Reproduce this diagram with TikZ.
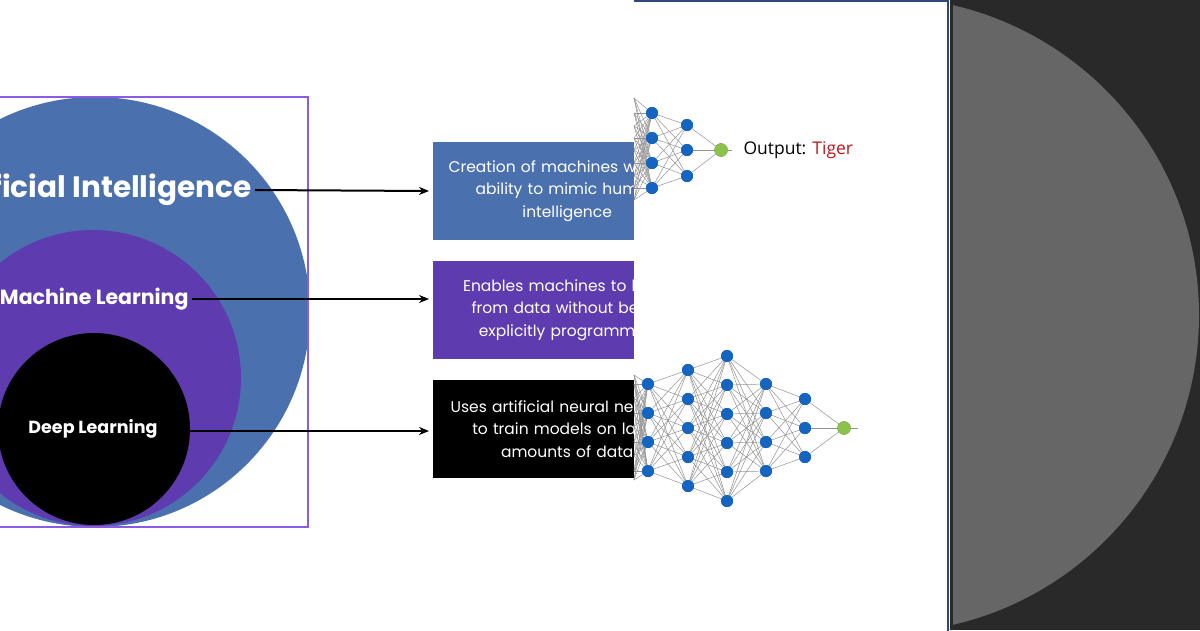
\documentclass[tikz,border=0pt]{standalone}
\usepackage{fontspec}
\setmainfont{Poppins}
\newfontfamily\nnfont{Open Sans}
\usetikzlibrary{arrows.meta}
\definecolor{aiblue}{HTML}{4A70AE}
\definecolor{mlpurple}{HTML}{5E3CB0}
\definecolor{frame}{HTML}{8A5CE0}
\definecolor{panelb}{HTML}{2E4780}
\definecolor{nblue}{HTML}{1565C0}
\definecolor{ngreen}{HTML}{8BC34A}
\begin{document}
\begin{tikzpicture}[x=1pt,y=-1pt,
  lbl/.style={text=white,font=\bfseries},
  box/.style={minimum width=268pt,minimum height=98pt,text width=268pt,align=center,text=white,font=\fontsize{15.5}{22.5}\selectfont,inner sep=0pt},
  arr/.style={-{Stealth[length=10pt,width=8pt]},line width=2pt},
  neu/.style={circle,fill=nblue,minimum size=12pt,inner sep=0pt},
  outn/.style={circle,fill=ngreen,draw=ngreen!70!black,line width=0.4pt,minimum size=13pt,inner sep=0pt},
  syn/.style={draw=gray!85,line width=0.5pt}]
\useasboundingbox (0,0) rectangle (1200,630);
\clip (0,0) rectangle (1200,630);
\fill[white] (0,0) rectangle (1200,630);
% nested circles
\begin{scope}
\clip (0,97) rectangle (308,527);
\fill[aiblue] (95,312) circle (215);
\fill[mlpurple] (93,378) circle (148);
\fill[black] (94,429) circle (96);
\end{scope}
\draw[frame,line width=1.2pt] (-2,97) rectangle (308,527);
\node[lbl,anchor=east,font=\fontsize{29.5}{32}\selectfont\bfseries,text=white] (ai) at (255,190) {Artificial Intelligence};
\node[lbl,anchor=east,font=\fontsize{20.5}{24}\selectfont\bfseries,text=white] (ml) at (192,299) {Machine Learning};
\node[lbl,font=\fontsize{17.5}{20}\selectfont\bfseries,text=white] (dl) at (93,429) {Deep Learning};
% boxes
\node[box,fill=aiblue,anchor=west] (b1) at (433,191) {Creation of machines with the\\ ability to mimic human\\ intelligence};
\node[box,fill=mlpurple,anchor=west] (b2) at (433,310) {Enables machines to learn\\ from data without being\\ explicitly programmed};
\node[box,fill=black,anchor=west] (b3) at (433,429) {Uses artificial neural networks\\ to train models on large\\ amounts of data};
\draw[arr] (ai.east) -- ([xshift=-4pt]b1.west);
\draw[arr] (ml.east) -- ([xshift=-4pt]b2.west|-ml.east);
\draw[arr] (190,431) coordinate (dle) -- ([xshift=-4pt]b3.west|-dle);
% panel
\fill[white] (634,0) rectangle (948,630);
\draw[panelb,line width=1.5pt] (634,1) -- (948,1) -- (948,632);
% top network
\foreach \i/\y in {1/113,2/138,3/163,4/188} \node[neu] (ta\i) at (652,\y) {};
\foreach \i/\y in {1/125,2/150,3/176} \node[neu] (tb\i) at (687,\y) {};
\node[outn] (to) at (721,150) {};
\foreach \i/\y in {1/98,2/113,3/126,4/138,5/150,6/163,7/176,8/188,9/200}
  \coordinate (ti\i) at (634,\y);
\foreach \i in {1,...,9}\foreach \j in {1,...,4}{\path[syn] (ti\i) -- (ta\j);}
\foreach \i in {1,...,4}\foreach \j in {1,...,3}{\path[syn] (ta\i) -- (tb\j);}
\foreach \j in {1,...,3}{\path[syn] (tb\j) -- (to);}
\coordinate (tend) at (732,150);
\path[syn] (to) -- (tend);
\node[anchor=west,font=\nnfont\fontsize{17.5}{20}\selectfont] (otxt) at (740,150) {Output: \textcolor[HTML]{C0161B}{Tiger}};
% bottom network
\foreach \i/\y in {1/384,2/413,3/442,4/471} \node[neu] (a\i) at (648,\y) {};
\foreach \i/\y in {1/370,2/399,3/428,4/457,5/486} \node[neu] (b\i) at (688,\y) {};
\foreach \i/\y in {1/356,2/385,3/414,4/443,5/472,6/501} \node[neu] (c\i) at (727,\y) {};
\foreach \i/\y in {1/384,2/413,3/442,4/471} \node[neu] (d\i) at (766,\y) {};
\foreach \i/\y in {1/399,2/428,3/457} \node[neu] (e\i) at (805,\y) {};
\node[outn] (o) at (844,428) {};
\foreach \i/\y in {1/375,2/384,3/398,4/413,5/427,6/442,7/456,8/471,9/480}
  \coordinate (bi\i) at (634,\y);
\foreach \i in {1,...,9}\foreach \j in {1,...,4}{\path[syn] (bi\i) -- (a\j);}
\foreach \i in {1,...,4}\foreach \j in {1,...,5}{\path[syn] (a\i) -- (b\j);}
\foreach \i in {1,...,5}\foreach \j in {1,...,6}{\path[syn] (b\i) -- (c\j);}
\foreach \i in {1,...,6}\foreach \j in {1,...,4}{\path[syn] (c\i) -- (d\j);}
\foreach \i in {1,...,4}\foreach \j in {1,...,3}{\path[syn] (d\i) -- (e\j);}
\foreach \j in {1,...,3}{\path[syn] (e\j) -- (o);}
\coordinate (bend) at (858,428);
\path[syn] (o) -- (bend);
% redraw neurons on top
\foreach \n in {ta1,ta2,ta3,ta4,tb1,tb2,tb3,a1,a2,a3,a4,b1,b2,b3,b4,b5,c1,c2,c3,c4,c5,c6,d1,d2,d3,d4,e1,e2,e3}
  \fill[nblue] (\n) circle (6pt);
\fill[ngreen] (to) circle (6.5pt);
\fill[ngreen] (o) circle (6.5pt);
% right dark area
\fill[black!84] (950,0) rectangle (1200,630);
\begin{scope}
\clip (953,0) rectangle (1200,630);
\fill[black!60] (881,315) circle (318);
\end{scope}
\end{tikzpicture}
\end{document}
